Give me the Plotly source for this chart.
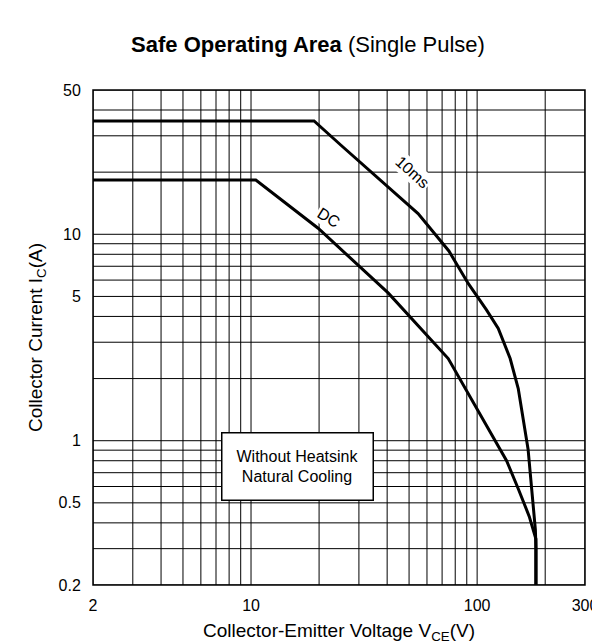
import plotly.graph_objects as go
import numpy as np

x10 = [2, 19, 25, 36.5, 54.8, 75, 91.3, 110, 124, 140, 152, 168, 177, 181, 182, 182]
y10 = [35.4, 35.4, 27, 18.7, 12.6, 8.3, 5.78, 4.3, 3.5, 2.5, 1.79, 0.91, 0.5, 0.37, 0.3, 0.2]
xdc = [2, 10.5, 19.8, 40.4, 74.5, 112, 135, 152, 170, 182, 182]
ydc = [18.3, 18.3, 10.7, 5.2, 2.5, 1.14, 0.8, 0.585, 0.43, 0.334, 0.2]

xgrid = [2,3,4,5,6,7,8,9,10,20,30,40,50,60,70,80,90,100,200,300]
ygrid = [0.2,0.3,0.4,0.5,0.6,0.7,0.8,0.9,1,2,3,4,5,6,7,8,9,10,20,30,40,50]

fig = go.Figure()
for xs, ys in [(x10, y10), (xdc, ydc)]:
    fig.add_trace(go.Scatter(x=xs, y=ys, mode="lines", line=dict(color="black", width=3), showlegend=False))

shapes = []
for v in xgrid:
    shapes.append(dict(type="line", xref="x", yref="paper", x0=v, x1=v, y0=0, y1=1, line=dict(color="black", width=1), layer="below"))
for v in ygrid:
    shapes.append(dict(type="line", xref="paper", yref="y", x0=0, x1=1, y0=v, y1=v, line=dict(color="black", width=1), layer="below"))
shapes.append(dict(type="rect", xref="paper", yref="paper", x0=0, x1=1, y0=0, y1=1, line=dict(color="black", width=1.5)))

fig.update_layout(
    width=600, height=642, plot_bgcolor="white", paper_bgcolor="white",
    margin=dict(l=85, r=23, t=82, b=65),
    font=dict(family="Liberation Sans", color="black", size=16),
    title=dict(text="<b>Safe Operating Area</b> (Single Pulse)", x=0.5, xanchor="center", y=0.955, font=dict(size=22)),
    shapes=shapes,
    xaxis=dict(type="log", range=[np.log10(2), np.log10(300)], tickvals=[2,10,100,300], ticktext=["2","10","100","300"],
               showgrid=False, zeroline=False, ticks="outside", ticklen=6, tickcolor="white", automargin=False,
               title=dict(text="Collector-Emitter Voltage V<sub>CE</sub>(V)", standoff=10)),
    yaxis=dict(type="log", range=[np.log10(0.2), np.log10(50)], tickvals=[0.2,0.5,1,5,10,50], ticktext=["0.2","0.5","1","5","10","50"],
               showgrid=False, zeroline=False, ticks="outside", ticklen=8, tickcolor="white", automargin=False,
               title=dict(text="Collector Current I<sub>C</sub>(A)", standoff=10)),
    annotations=[
        dict(x=np.log10(52), y=np.log10(20), text="10ms", showarrow=False, textangle=42, bgcolor="white", font=dict(size=16)),
        dict(x=np.log10(22), y=np.log10(12), text="DC", showarrow=False, textangle=32, bgcolor="white", font=dict(size=16)),
        dict(x=0.26, y=0.17, xref="paper", yref="paper", text="Without Heatsink<br>Natural Cooling", showarrow=False,
             bgcolor="white", bordercolor="black", borderwidth=1.5, borderpad=14, font=dict(size=16)),
    ],
)
fig.write_html("out.html")
